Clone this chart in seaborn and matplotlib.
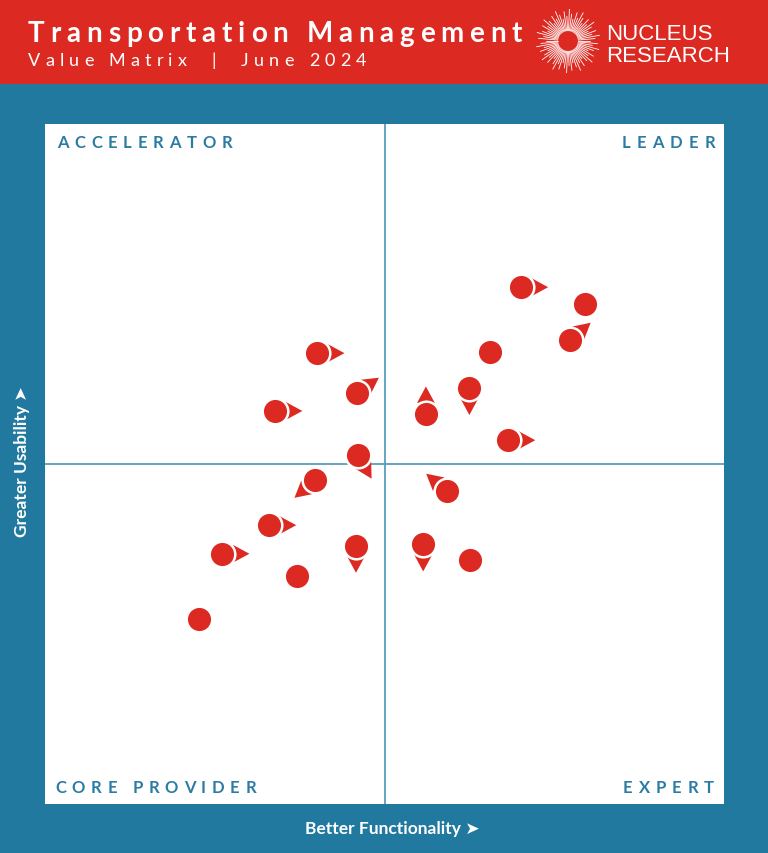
import numpy as np
import matplotlib
matplotlib.use("Agg")
import matplotlib.pyplot as plt
import seaborn as sns
import pandas as pd

# functionality (x) and usability (y), 0-100 scale; arrow direction in degrees (None = no arrow)
functionality = [70.1, 79.5, 77.3, 65.5, 62.5, 56.1, 68.2, 40.1, 45.9, 33.9,
                 46.1, 39.8, 59.2, 33.0, 26.1, 45.8, 55.7, 62.6, 37.1, 22.7]
usability = [76.0, 73.5, 68.2, 66.5, 61.2, 57.4, 53.5, 66.3, 60.4, 57.8,
             51.3, 47.6, 46.0, 41.0, 36.8, 38.0, 38.2, 35.9, 33.5, 27.2]
direction = [0, None, 40, None, 270, 90, 0, 0, 35, 0,
             -60, 220, 140, 0, 0, 270, 270, None, None, None]
quadrants = ["ACCELERATOR", "LEADER", "CORE PROVIDER", "EXPERT"]

RED = "#dc2a22"
BLUE = "#21799f"
QBLUE = "#2b7ba3"
W, H = 768, 854

sns.set_theme(style="white")
plt.rcParams['font.family'] = ['DejaVu Sans']

fig = plt.figure(figsize=(7.68, 8.54), dpi=100)
fig.patch.set_facecolor(BLUE)
R = fig.canvas.get_renderer()


def _w(s, **kw):
    t = fig.text(0, 0, s + "|", **kw)
    a = t.get_window_extent(R).width
    t.remove()
    t = fig.text(0, 0, "|", **kw)
    b = t.get_window_extent(R).width
    t.remove()
    return a - b


def spaced(x0, x1, y, s, **kw):
    """Draw s with letter spacing between pixel x0 and x1 (top-left origin)."""
    nat = _w(s, **kw)
    track = ((x1 - x0) - nat) / max(len(s) - 1, 1)
    for i, ch in enumerate(s):
        if ch == " ":
            continue
        p = x0 + _w(s[:i], **kw) + i * track
        fig.text(p / W, 1 - y / H, ch, ha="left", va="center", **kw)


# header
hdr = fig.add_axes([0, 1 - 85/854, 1, 85/854])
hdr.set_axis_off()
hdr.add_patch(plt.Rectangle((0, 0), 1, 1, color=RED, transform=hdr.transAxes))
spaced(28, 522, 34, "Transportation Management", color="white",
       fontsize=20, fontweight="bold", family="Lato")
spaced(28, 366, 61, "Value Matrix  |  June 2024", color="white",
       fontsize=13, family="Lato")
fig.text(606/768, 1 - 35/854, "NUCLEUS", color="white", fontsize=16,
         va="center", ha="left", family="Liberation Sans")
fig.text(606/768, 1 - 56/854, "RESEARCH", color="white", fontsize=16,
         va="center", ha="left", family="Liberation Sans")
# starburst logo
la = fig.add_axes([536/768, 1 - 74/854, 64/768, 64/854])
la.set_axis_off(); la.set_xlim(-1, 1); la.set_ylim(-1, 1)
angs = np.linspace(0, 2*np.pi, 70, endpoint=False)
for i, a in enumerate(angs):
    r0 = 0.32
    r1 = 0.7 + 0.3*((i*7) % 5)/4
    la.plot([r0*np.cos(a), r1*np.cos(a)], [r0*np.sin(a), r1*np.sin(a)],
            color="white", lw=0.6)

ax = fig.add_axes([45/768, 49/854, 679/768, 680/854])
ax.set_xlim(0, 100); ax.set_ylim(0, 100)
ax.set_facecolor("white")
ax.set_xticks([]); ax.set_yticks([])
for s in ax.spines.values():
    s.set_visible(False)
ax.axvline(50, color="#5b9cbd", lw=1.3, zorder=1)
ax.axhline(50, color="#5b9cbd", lw=1.3, zorder=1)

df = pd.DataFrame({"x": functionality, "y": usability})
base, tip, hw = 1.6, 4.0, 1.3
for x, y, d in zip(functionality, usability, direction):
    if d is None:
        continue
    t = np.deg2rad(d)
    ux, uy = np.cos(t), np.sin(t)
    px, py = -uy, ux
    verts = [(x + ux*tip, y + uy*tip),
             (x + ux*base + px*hw, y + uy*base + py*hw),
             (x + ux*base - px*hw, y + uy*base - py*hw)]
    ax.fill(*zip(*verts), color=RED, lw=0, zorder=2)
sns.scatterplot(data=df, x="x", y="y", ax=ax, s=340, color=RED,
                edgecolor="white", linewidth=1.8, zorder=3, legend=False)
ax.set_xlabel(""); ax.set_ylabel("")

kw = dict(color=QBLUE, fontsize=12, fontweight="bold", family="Lato")
spaced(57, 232, 143, quadrants[0], **kw)
spaced(622, 715, 143, quadrants[1], **kw)
spaced(55, 256, 788, quadrants[2], **kw)
spaced(623, 714, 788, quadrants[3], **kw)

akw = dict(color="white", fontsize=12.5, fontweight="bold",
           family=["Lato", "DejaVu Sans"])
fig.text(392/768, 1 - 829/854, "Better Functionality ➤", ha="center",
         va="center", **akw)
fig.text(22/768, 1 - 462/854, "Greater Usability ➤", ha="center",
         va="center", rotation=90, **akw)

fig.savefig("out.png", dpi=100, facecolor=fig.get_facecolor())
